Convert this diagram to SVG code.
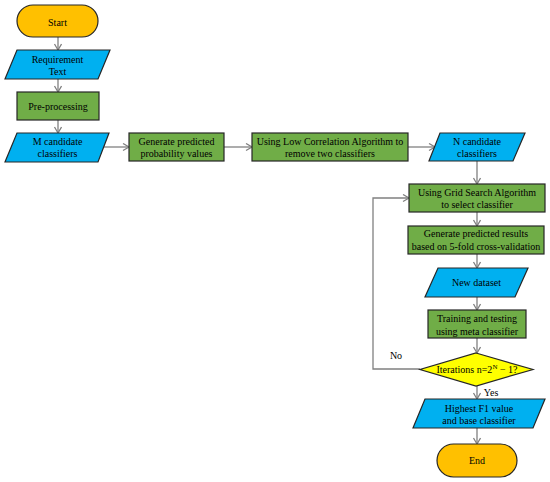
<svg xmlns="http://www.w3.org/2000/svg" width="550" height="482" viewBox="0 0 550 482">
<style>
text{font-family:"Liberation Serif","Times New Roman",serif;font-size:10px;fill:#000;text-anchor:middle}
.term{fill:#FFC000;stroke:#262626;stroke-width:1.2}
.io{fill:#00B0F0;stroke:#262626;stroke-width:1.2}
.proc{fill:#70AD47;stroke:#262626;stroke-width:1.2}
.dec{fill:#FFFF00;stroke:#262626;stroke-width:1.2}
.conn{fill:none;stroke:#808080;stroke-width:1.3}
</style>
<defs>
<marker id="arr" markerUnits="userSpaceOnUse" markerWidth="10" markerHeight="10" refX="7" refY="4" orient="auto">
<path d="M1,0.5 L7,4 L1,7.5" fill="none" stroke="#808080" stroke-width="1.3"/>
</marker>
</defs>
<rect width="550" height="482" fill="#fff"/>
<g id="connectors" class="conn">
<line class="conn" x1="58" y1="37" x2="58" y2="50" marker-end="url(#arr)"/>
<line class="conn" x1="58" y1="79" x2="58" y2="92" marker-end="url(#arr)"/>
<line class="conn" x1="58" y1="120" x2="58" y2="133" marker-end="url(#arr)"/>
<line class="conn" x1="103" y1="147" x2="129" y2="147" marker-end="url(#arr)"/>
<line class="conn" x1="224" y1="147" x2="252" y2="147" marker-end="url(#arr)"/>
<line class="conn" x1="408" y1="147" x2="435" y2="147" marker-end="url(#arr)"/>
<line class="conn" x1="477" y1="161" x2="477" y2="184" marker-end="url(#arr)"/>
<line class="conn" x1="477" y1="212" x2="477" y2="226" marker-end="url(#arr)"/>
<line class="conn" x1="477" y1="254" x2="477" y2="268" marker-end="url(#arr)"/>
<line class="conn" x1="477" y1="297" x2="477" y2="310" marker-end="url(#arr)"/>
<line class="conn" x1="477" y1="338" x2="477" y2="353" marker-end="url(#arr)"/>
<line class="conn" x1="477" y1="386" x2="477" y2="399" marker-end="url(#arr)"/>
<line class="conn" x1="477" y1="428" x2="477" y2="444" marker-end="url(#arr)"/>
<polyline class="conn" points="420,369 373,369 373,198 409,198" marker-end="url(#arr)"/>
</g>
<g id="start">
<rect class="term" x="17" y="5" width="81" height="32" rx="16" ry="16"/>
<text x="57.5" y="25.5">Start</text>
</g>
<g id="requirement">
<polygon class="io" points="17,50 110,50 98,79 5,79"/>
<text x="57.5" y="62.5">Requirement</text>
<text x="57.5" y="74.5">Text</text>
</g>
<g id="preprocessing">
<rect class="proc" x="17" y="92" width="82" height="28"/>
<text x="58" y="109.5">Pre-processing</text>
</g>
<g id="mcandidate">
<polygon class="io" points="17,133 109,133 98,162 5,162"/>
<text x="57.5" y="144.5">M candidate</text>
<text x="57.5" y="156.5">classifiers</text>
</g>
<g id="generateprob">
<rect class="proc" x="129" y="133" width="95" height="28"/>
<text x="176.5" y="144.5">Generate predicted</text>
<text x="176.5" y="156.5">probability values</text>
</g>
<g id="lowcorr">
<rect class="proc" x="252" y="133" width="156" height="28"/>
<text x="330" y="144.5">Using Low Correlation Algorithm to</text>
<text x="330" y="156.5">remove two classifiers</text>
</g>
<g id="ncandidate">
<polygon class="io" points="440,133 525,133 513,161 429,161"/>
<text x="477" y="144.5">N candidate</text>
<text x="477" y="156.5">classifiers</text>
</g>
<g id="gridsearch">
<rect class="proc" x="409" y="184" width="136" height="28"/>
<text x="477" y="196">Using Grid Search Algorithm</text>
<text x="477" y="208">to select classifier</text>
</g>
<g id="generateresults">
<rect class="proc" x="408" y="226" width="136" height="28"/>
<text x="476" y="237">Generate predicted results</text>
<text x="476" y="250">based on 5-fold cross-validation</text>
</g>
<g id="newdataset">
<polygon class="io" points="438,268 528,268 515,297 425,297"/>
<text x="476.5" y="285.5">New dataset</text>
</g>
<g id="training">
<rect class="proc" x="428" y="310" width="98" height="28"/>
<text x="477" y="321.5">Training and testing</text>
<text x="477" y="335">using meta classifier</text>
</g>
<g id="iterations">
<polygon class="dec" points="476,353 533,369.5 476,386 420,369.5"/>
<text x="477" y="373">Iterations n=2<tspan dy="-4" font-size="7">N</tspan><tspan dy="4"> − 1?</tspan></text>
</g>
<text x="491" y="396">Yes</text>
<text x="396" y="359">No</text>
<g id="highest">
<polygon class="io" points="425,399 545,399 533,428 413,428"/>
<text x="479" y="411.5">Highest F1 value</text>
<text x="479" y="424">and base classifier</text>
</g>
<g id="end">
<rect class="term" x="437" y="444" width="80" height="33" rx="16.5" ry="16.5"/>
<text x="477" y="464">End</text>
</g>
</svg>
